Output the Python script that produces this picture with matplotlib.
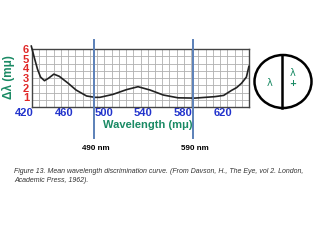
import matplotlib
matplotlib.use("Agg")
import matplotlib.pyplot as plt
import numpy as np
from matplotlib.patches import Ellipse
from matplotlib.lines import Line2D

# wavelength discrimination curve
wavelength = [426.7, 430, 433, 436, 440, 444, 449.5, 455, 464, 472, 482.5, 491, 496,
              509, 523, 534.5, 546.5, 560, 575, 592, 612, 621, 629, 634, 639, 644, 646.5]
delta_lambda = [6.3, 5.0, 3.9, 3.1, 2.72, 2.97, 3.4, 3.17, 2.45, 1.75, 1.14, 1.0, 1.0,
                1.3, 1.8, 2.1, 1.76, 1.24, 0.95, 0.92, 1.07, 1.2, 1.72, 2.0, 2.45, 3.1, 4.2]
x_ticks = [420, 460, 500, 540, 580, 620]
y_ticks = [1, 2, 3, 4, 5, 6]
marker_lines = [490, 590]
marker_labels = ["490 nm", "590 nm"]
caption = ("Figure 13. Mean wavelength discrimination curve. (From Davson, H., The Eye, vol 2. London,\n"
           "Academic Press, 1962).")

W, H = 320, 240
fig = plt.figure(figsize=(3.2, 2.4), dpi=100)
fig.patch.set_facecolor("white")

# axes box in pixels: left 32, right 249, top 49, bottom 107
ax = fig.add_axes([32 / W, 1 - 107 / H, 217 / W, 58 / H])
xmin, xmax = 427.4, 646.6
ax.set_xlim(xmin, xmax)
ax.set_ylim(0, 6)

# graph-paper grid
for gx in np.linspace(xmin, xmax, 31)[1:-1]:
    ax.axvline(gx, color="#b0b0b0", lw=0.6, zorder=1)
for gy in np.linspace(0, 6, 9)[1:-1]:
    ax.axhline(gy, color="#b0b0b0", lw=0.6, zorder=1)

ax.plot(wavelength, delta_lambda, color="#222222", lw=1.2, zorder=3, clip_on=False)

for s in ax.spines.values():
    s.set_color("#444444")
    s.set_linewidth(1.0)

ax.set_xticks(x_ticks[1:])
ax.set_xticklabels([str(t) for t in x_ticks[1:]])
ax.set_yticks(y_ticks)
ax.set_yticklabels([str(t) for t in y_ticks])
ax.tick_params(axis="x", length=0, pad=1)
ax.tick_params(axis="y", length=0, pad=2)
for lab in ax.get_xticklabels():
    lab.set_color("#2233cc")
    lab.set_fontweight("bold")
    lab.set_fontsize(8)
    lab.set_family("Liberation Sans")
for lab in ax.get_yticklabels():
    lab.set_color("#e02828")
    lab.set_fontweight("bold")
    lab.set_fontsize(8)
    lab.set_family("Liberation Sans")
# first x label sits left of the box
ax.text(x_ticks[0], -1 / 58 * 6, str(x_ticks[0]), color="#2233cc", fontsize=8,
        fontweight="bold", family="Liberation Sans", ha="center", va="top",
        transform=ax.transData, clip_on=False)

fig.text(148 / W, 1 - 125.5 / H, "Wavelength (m\u03bc)", color="#1a8a64", fontsize=8,
         fontweight="bold", family="Liberation Sans", ha="center", va="center")
fig.text(8 / W, 1 - 77 / H, "\u0394\u03bb (m\u03bc)", color="#1a8a64", fontsize=8.5,
         fontweight="bold", family="Liberation Sans", ha="center", va="center", rotation=90)

# blue marker lines, running past the box
for m in marker_lines:
    ax.axvline(m, ymin=(107 - 138) / 58, ymax=(107 - 40) / 58, color="#5b80b8",
               lw=1.4, zorder=4, clip_on=False)
for m, lab in zip(marker_lines, marker_labels):
    ax.text(m + 1.5, (107 - 148) / 58 * 6, lab, fontsize=5.8, fontweight="bold",
            family="Liberation Sans", ha="center", va="center", clip_on=False)

# split-field circle
fig.add_artist(Ellipse((283 / W, 1 - 81.5 / H), 57 / W, 53 / H, transform=fig.transFigure,
                       fill=False, edgecolor="black", lw=1.8))
fig.add_artist(Line2D([282 / W, 282 / W], [1 - 55 / H, 1 - 108 / H],
                      transform=fig.transFigure, color="black", lw=1.8))
fig.text(270 / W, 1 - 83 / H, "\u03bb", color="#1a8a64", fontsize=7, ha="center", va="center")
fig.text(293 / W, 1 - 73 / H, "\u03bb", color="#1a8a64", fontsize=7, ha="center", va="center")
fig.text(293 / W, 1 - 83 / H, "+", color="#1a8a64", fontsize=6, fontweight="bold",
         ha="center", va="center")

fig.text(14 / W, 1 - 176 / H, caption, fontsize=5.0, style="italic", color="#333333",
         family="Liberation Sans", ha="left", va="center", linespacing=1.3)

fig.savefig("out.png", dpi=100)
